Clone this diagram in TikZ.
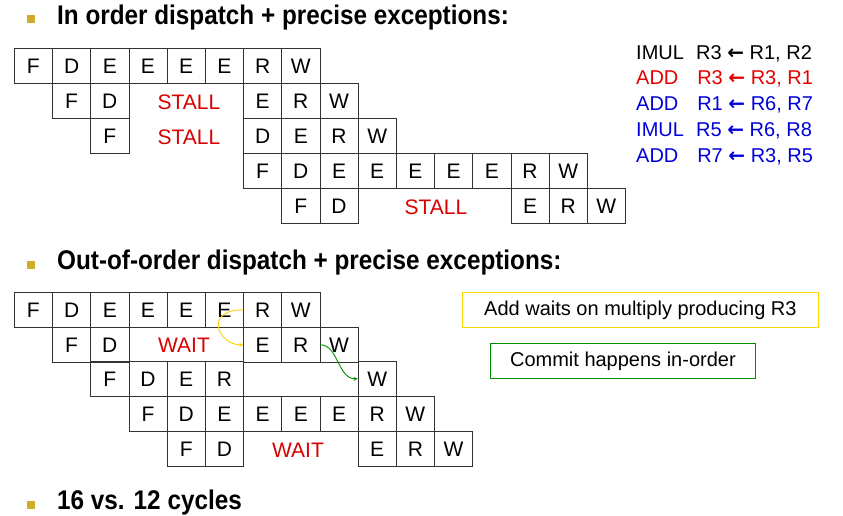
\documentclass[tikz,border=0pt]{standalone}
\usepackage{fontspec}
\setmainfont{Liberation Sans}
\newfontfamily\arrowfont{DejaVu Sans}
\begin{document}
\begin{tikzpicture}[x=1pt,y=-1pt,
  cell/.style={draw=black!80,line width=0.6pt,minimum width=38.2pt,minimum height=35pt,inner sep=0pt,anchor=north west,font=\fontsize{21}{21}\selectfont},
  lab/.style={text=red!85!black,font=\fontsize{21}{21}\selectfont},
  instr/.style={anchor=west,inner sep=0pt,font=\fontsize{20}{20}\selectfont},
  head/.style={anchor=west,inner sep=0pt,font=\bfseries\fontsize{27}{27}\selectfont,xscale=0.9},
  bul/.style={fill=yellow!60!orange!80!black,minimum size=8pt,inner sep=0pt},
  note/.style={draw,line width=0.8pt,inner sep=0pt,minimum height=35pt,font=\fontsize{20}{20}\selectfont}]
\useasboundingbox (0,0) rectangle (843,516);
\newcommand{\rowcells}[4]{% prefix, y, startcol, list
  \foreach \t [count=\i from 0] in {#4}{
    \pgfmathtruncatemacro{\c}{#3+\i}
    \node[cell] (#1-\c) at ({14+38.2*\c},#2) {\t};}}
% headings
\node[bul] (b1) at (31,19) {};
\node[head] (h1) at (57,18) {In order dispatch + precise exceptions:};
\node[bul] (b2) at (31,265) {};
\node[head] (h2) at (57,263) {Out-of-order dispatch + precise exceptions:};
\node[bul] (b3) at (31,505) {};
\node[head] (h3) at (57,503) {16 vs. 12 cycles};
% top grid
\rowcells{a1}{48}{0}{F,D,E,E,E,E,R,W}
\rowcells{a2}{83}{1}{F,D}
\rowcells{a2}{83}{6}{E,R,W}
\rowcells{a3}{118}{2}{F}
\rowcells{a3}{118}{6}{D,E,R,W}
\rowcells{a4}{153}{6}{F,D,E,E,E,E,E,R,W}
\rowcells{a5}{188}{7}{F,D}
\rowcells{a5}{188}{13}{E,R,W}
\node[lab] (s1) at (189,102) {STALL};
\node[lab] (s2) at (189,137) {STALL};
\node[lab] (s3) at (436,207) {STALL};
% instructions
\node[instr] (i1) at (636,54) {IMUL\,\, R3 {\arrowfont\bfseries ←} R1, R2};
\node[instr,text=red!90!black] (i2) at (636,79) {ADD\,\,\,\, R3 {\arrowfont\bfseries ←} R3, R1};
\node[instr,text=blue!85!black] (i3) at (636,105) {ADD\,\,\,\, R1 {\arrowfont\bfseries ←} R6, R7};
\node[instr,text=blue!85!black] (i4) at (636,131) {IMUL\,\, R5 {\arrowfont\bfseries ←} R6, R8};
\node[instr,text=blue!85!black] (i5) at (636,157) {ADD\,\,\,\, R7 {\arrowfont\bfseries ←} R3, R5};
% bottom grid
\rowcells{b1}{292}{0}{F,D,E,E,E,E,R,W}
\rowcells{b2}{327}{1}{F,D}
\rowcells{b2}{327}{6}{E,R,W}
\rowcells{b3}{361}{2}{F,D,E,R}
\rowcells{b3}{361}{9}{W}
\rowcells{b4}{396}{3}{F,D,E,E,E,E,R,W}
\rowcells{b5}{431}{4}{F,D}
\rowcells{b5}{431}{9}{E,R,W}
\node[lab] (w1) at (184,345) {WAIT};
\node[lab] (w2) at (298,450) {WAIT};
% arrows
\draw[->,>=stealth,draw=yellow!70!orange,line width=0.9pt] (b1-6.west) .. controls +(-40,0) and +(-25,0) .. (b2-6.west);
\draw[->,>=stealth,draw=green!55!black,line width=0.9pt] (b2-7.east) .. controls +(18,0) and +(-20,0) .. (b3-9.west);
% notes
\node[note,draw=yellow!75!orange,minimum width=356pt,anchor=west] (n1) at (462,310) {Add waits on multiply producing R3};
\node[note,draw=green!55!black,minimum width=265pt,anchor=west] (n2) at (490,361) {Commit happens in-order};
\end{tikzpicture}
\end{document}
